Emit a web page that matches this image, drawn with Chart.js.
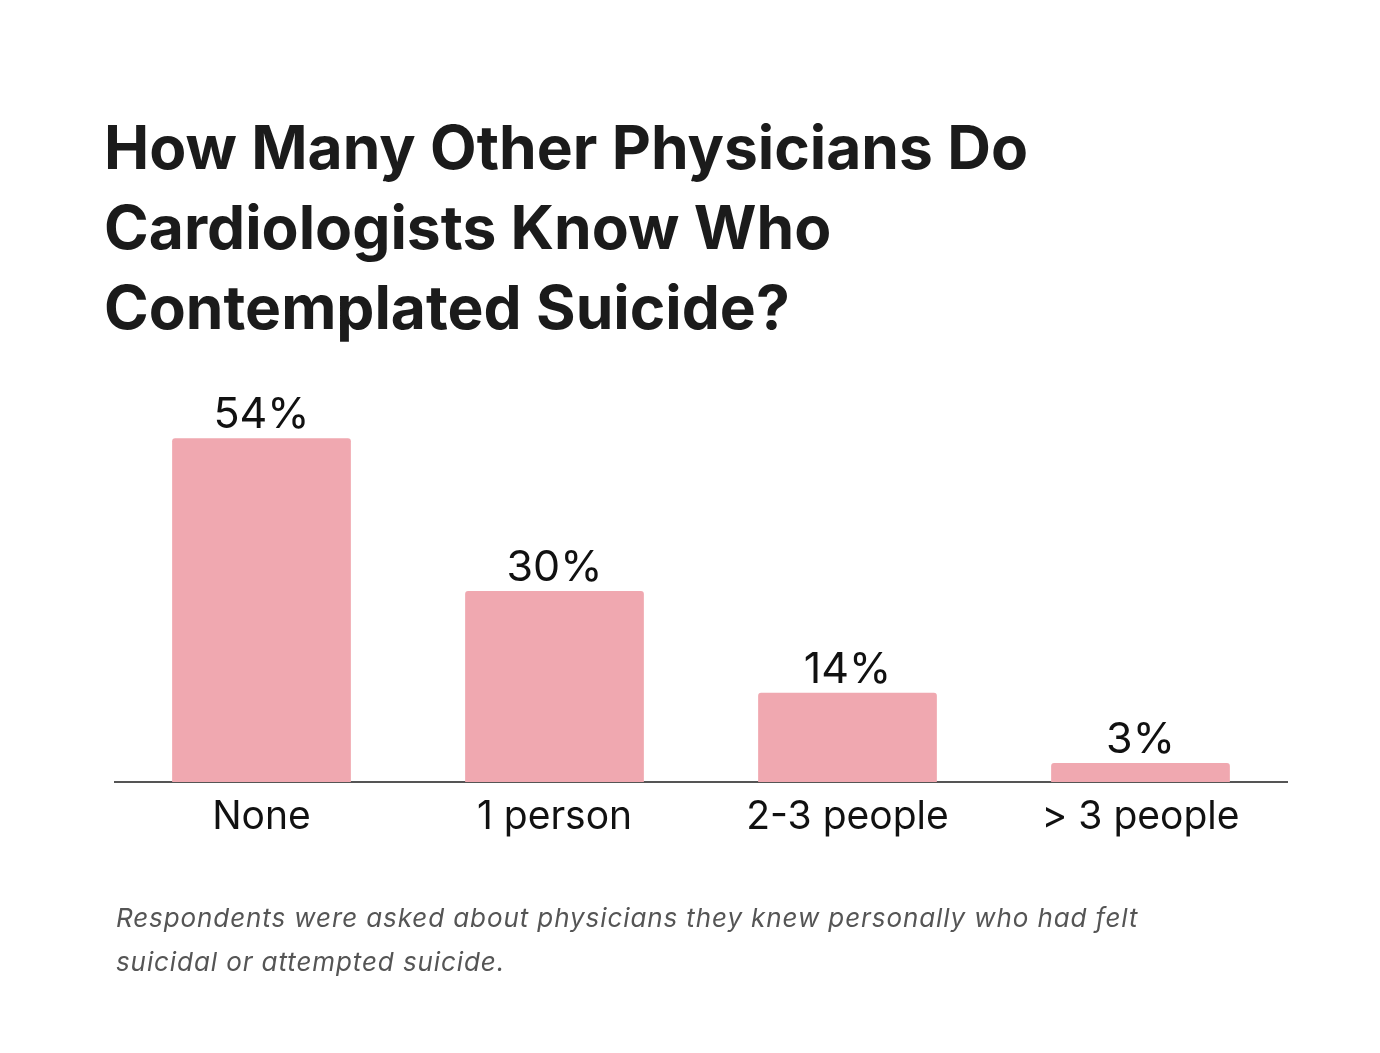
<!DOCTYPE html>
<html>
<head>
<meta charset="utf-8">
<script src="https://cdn.jsdelivr.net/npm/chart.js@4.4.0/dist/chart.umd.min.js"></script>
<style>
  html, body { margin: 0; padding: 0; background: #ffffff; }
  #wrap { width: 1380px; height: 1053px; position: relative; }
</style>
</head>
<body>
<div id="wrap"><canvas id="c" width="1380" height="1053"></canvas></div>
<script>
const categories = ["None", "1 person", "2-3 people", "> 3 people"];
const values = [54, 30, 14, 3];
const valueLabels = ["54%", "30%", "14%", "3%"];
const titleLines = ["How Many Other Physicians Do", "Cardiologists Know Who", "Contemplated Suicide?"];
const noteLines = ["Respondents were asked about physicians they knew personally who had felt", "suicidal or attempted suicide."];

const FONT = "Inter, 'Open Sans', sans-serif";

const textPlugin = {
  id: 'textPlugin',
  afterDraw(chart) {
    const ctx = chart.ctx;
    ctx.save();
    ctx.fillStyle = '#1b1b1b';
    ctx.font = "bold 60.5px " + FONT;
    ctx.textAlign = 'left';
    ctx.textBaseline = 'alphabetic';
    titleLines.forEach((t, i) => ctx.fillText(t, 104, 169 + i * 80));
    const meta = chart.getDatasetMeta(0);
    ctx.fillStyle = '#111111';
    ctx.font = "43px " + FONT;
    ctx.textAlign = 'center';
    meta.data.forEach((bar, i) => {
      ctx.fillText(valueLabels[i], bar.x, bar.y - 10);
    });
    ctx.fillStyle = '#555555';
    ctx.font = "italic 26px " + FONT;
    ctx.textAlign = 'left';
    if ('letterSpacing' in ctx) ctx.letterSpacing = '0.9px';
    noteLines.forEach((t, i) => ctx.fillText(t, 116, 927 + i * 44));
    ctx.restore();
  }
};

new Chart(document.getElementById('c'), {
  type: 'bar',
  data: {
    labels: categories,
    datasets: [{
      data: values,
      backgroundColor: '#F0A8B0',
      borderWidth: 0,
      borderRadius: { topLeft: 3, topRight: 3, bottomLeft: 0, bottomRight: 0 },
      borderSkipped: 'bottom',
      categoryPercentage: 1.0,
      barPercentage: 0.61
    }]
  },
  options: {
    responsive: false,
    animation: false,
    devicePixelRatio: 1,
    layout: { padding: { left: 115, right: 93, top: 400, bottom: 200 } },
    plugins: { legend: { display: false }, tooltip: { enabled: false }, title: { display: false } },
    scales: {
      x: {
        afterFit(scale) { scale.height = 71; },
        grid: { display: false, drawTicks: false },
        border: { display: true, color: '#555555', width: 2 },
        ticks: { color: '#111111', font: { family: FONT, size: 39 }, padding: 12, maxRotation: 0 }
      },
      y: {
        display: false,
        min: 0,
        max: 60
      }
    }
  },
  plugins: [textPlugin]
});
</script>
</body>
</html>
